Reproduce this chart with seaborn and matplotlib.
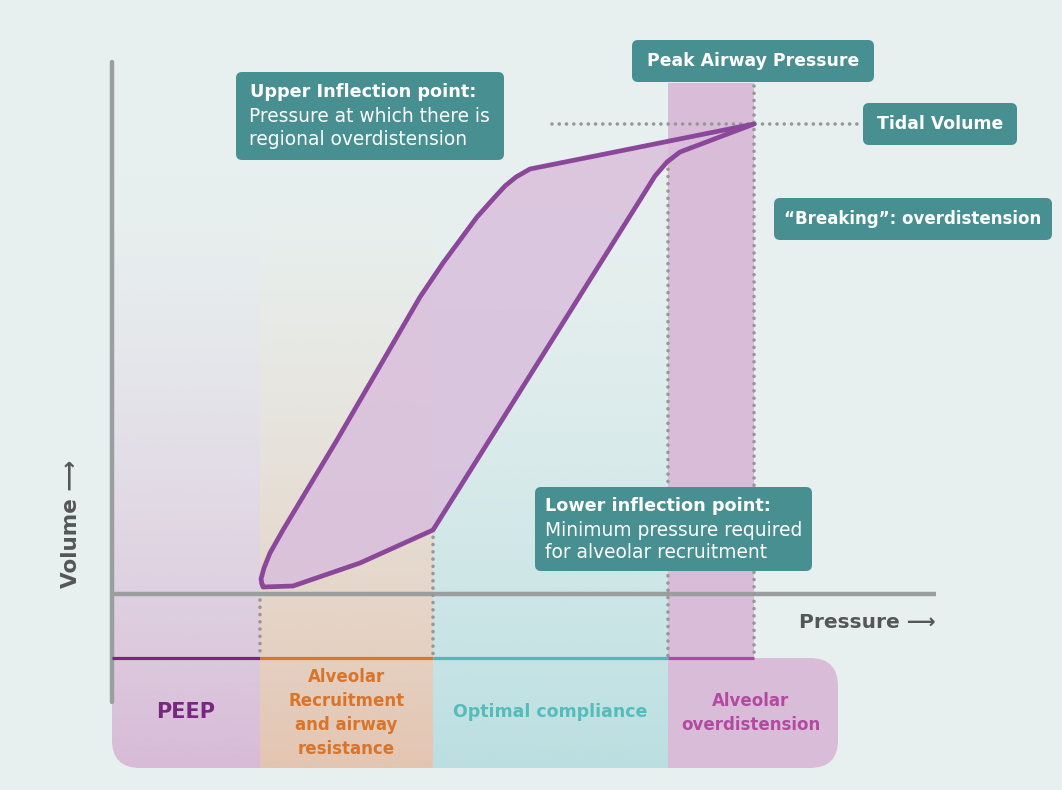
import numpy as np
import pandas as pd
import matplotlib
matplotlib.use("Agg")
import matplotlib.pyplot as plt
import seaborn as sns
from matplotlib.patches import FancyBboxPatch, Rectangle

# ---------------- data (pressure / volume in arbitrary units) ----------------
zone_labels = ["PEEP", "Alveolar\nRecruitment\nand airway\nresistance",
               "Optimal compliance", "Alveolar\noverdistension"]
zone_bounds = [0.0, 14.8, 32.1, 55.6, 64.2]
peep_pressure = 14.8
lower_ip_pressure = 32.1
lower_ip_volume = 6.4
breaking_pressure = 55.6
peak_pressure = 64.2
tidal_volume = 47.0

# inspiratory limb (PEEP -> peak)
insp_pressure = [15.0, 15.1, 18.1, 24.8, 32.1, 52.8, 54.3, 55.5, 56.8, 64.2]
insp_volume = [1.0, 0.7, 0.8, 3.1, 6.4, 39.4, 41.8, 43.2, 44.2, 47.0]
# expiratory limb (peak -> PEEP)
exp_pressure = [64.2, 48.8, 41.8, 40.4, 39.3, 38.2, 36.5, 34.8, 33.1, 30.8,
                22.5, 19.5, 17.1, 15.8, 15.2, 14.9, 15.0]
exp_volume = [47.0, 43.9, 42.5, 41.7, 40.8, 39.6, 37.7, 35.4, 33.1, 29.7,
              15.4, 10.4, 6.4, 4.1, 2.6, 1.5, 1.0]

box_texts = {
    "upper": ("Upper Inflection point:", ["Pressure at which there is", "regional overdistension"]),
    "lower": ("Lower inflection point:", ["Minimum pressure required", "for alveolar recruitment"]),
    "peak": "Peak Airway Pressure",
    "tidal": "Tidal Volume",
    "breaking": "\u201cBreaking\u201d: overdistension",
}

# ---------------- style ----------------
BG = "#e8f0ef"
TEAL_BOX = "#488f91"
CURVE = "#8b479a"
GRAY = "#9b9e9e"
DOT = "#979797"
zone_line_colors = ["#7a2580", "#d9752d", "#4fb9b9", "#b04aa0"]
zone_fill_colors = [(216, 187, 215), (228, 197, 177), (187, 223, 225)]
zone_text_colors = ["#77277f", "#d9742b", "#55bcbc", "#b24ba0"]
OVER_FILL = "#d9bdd8"

sns.set_theme(style="white")
plt.rcParams["font.family"] = ["DejaVu Sans"]

# layout helpers: pixel position -> data units
def X(px):
    return (px - 112) / 10.0

def Y(py):
    return (594 - py) / 10.0

fig = plt.figure(figsize=(10.62, 7.9), dpi=100)
fig.patch.set_facecolor(BG)
ax = fig.add_axes([0, 0, 1, 1])
ax.set_facecolor(BG)
ax.axis("off")

# ---------------- gradient zone bands ----------------
clip = FancyBboxPatch((X(112), Y(768)), X(720) - X(112), Y(100) - Y(768),
                      boxstyle="round,pad=0,rounding_size=2.8",
                      facecolor="none", edgecolor="none", transform=ax.transData)
ax.add_patch(clip)
N = 300
t = np.linspace(0, 1, N) ** 1.5
for i in range(3):
    rgb = np.array(zone_fill_colors[i]) / 255.0
    img = np.zeros((N, 1, 4))
    img[:, 0, :3] = rgb
    img[:, 0, 3] = t
    im = ax.imshow(img, extent=(zone_bounds[i], zone_bounds[i + 1], Y(768), Y(160)),
                   origin="upper", aspect="auto", interpolation="bilinear", zorder=1)
    im.set_clip_path(clip)

# overdistension band and bottom box
ax.add_patch(Rectangle((breaking_pressure, Y(658)), peak_pressure - breaking_pressure,
                       Y(83) - Y(658), facecolor=OVER_FILL, edgecolor="none", zorder=1))
over_box = FancyBboxPatch((X(600), Y(768)), X(838) - X(600), Y(658) - Y(768),
                          boxstyle="round,pad=0,rounding_size=2.8",
                          facecolor=OVER_FILL, edgecolor="none", zorder=1)
ax.add_patch(over_box)
over_clip = Rectangle((breaking_pressure, Y(800)), 40, 30, transform=ax.transData)
over_box.set_clip_path(over_clip)

# ---------------- axes lines ----------------
ax.plot([0, 0], [Y(702), Y(62)], color=GRAY, lw=3.2, solid_capstyle="round", zorder=2)
ax.plot([X(112), X(936)], [0, 0], color=GRAY, lw=3.2, solid_capstyle="butt", zorder=2)

# zone lines
for i in range(4):
    ax.plot([zone_bounds[i], zone_bounds[i + 1]], [Y(658), Y(658)],
            color=zone_line_colors[i], lw=2.3, solid_capstyle="butt", zorder=3)

# dotted guides
dot_kw = dict(color=DOT, lw=2.6, linestyle=(0, (0.01, 2.0)),
              dash_capstyle="round", zorder=2.5)
ax.plot([peep_pressure] * 2, [Y(600), Y(656)], **dot_kw)
ax.plot([lower_ip_pressure] * 2, [lower_ip_volume, Y(656)], **dot_kw)
ax.plot([breaking_pressure] * 2, [Y(162), Y(656)], **dot_kw)
ax.plot([peak_pressure] * 2, [Y(86), Y(656)], **dot_kw)
ax.plot([X(552), X(862)], [tidal_volume] * 2, **dot_kw)

# ---------------- P-V loop ----------------
loop = pd.DataFrame({
    "pressure": insp_pressure + exp_pressure[1:],
    "volume": insp_volume + exp_volume[1:],
})
ax.fill(loop["pressure"], loop["volume"], color="#d9bfdc", alpha=0.85, lw=0, zorder=4)
sns.lineplot(data=loop, x="pressure", y="volume", sort=False, estimator=None,
             color=CURVE, lw=3.4, ax=ax, zorder=5)
for ln in ax.lines[-1:]:
    ln.set_solid_joinstyle("round")
    ln.set_solid_capstyle("round")

# ---------------- text boxes ----------------
def tbox(x0, y0, x1, y1):
    ax.add_patch(FancyBboxPatch((X(x0), Y(y1)), X(x1) - X(x0), Y(y0) - Y(y1),
                                boxstyle="round,pad=0,rounding_size=0.6",
                                facecolor=TEAL_BOX, edgecolor="none", zorder=6))

tbox(236, 72, 504, 160)
ax.text(X(250), Y(92), box_texts["upper"][0], color="white", fontsize=12.7,
        fontweight="bold", va="center", ha="left", zorder=7)
for k, line in enumerate(box_texts["upper"][1]):
    ax.text(X(249), Y(116 + 23.5 * k), line, color="white", fontsize=13.4,
            va="center", ha="left", zorder=7)

tbox(535, 487, 812, 571)
ax.text(X(545), Y(506), box_texts["lower"][0], color="white", fontsize=12.7,
        fontweight="bold", va="center", ha="left", zorder=7)
for k, line in enumerate(box_texts["lower"][1]):
    ax.text(X(545), Y(530 + 22.5 * k), line, color="white", fontsize=13.4,
            va="center", ha="left", zorder=7)

tbox(632, 40, 874, 82)
ax.text(X(753), Y(61), box_texts["peak"], color="white", fontsize=12.4,
        fontweight="bold", va="center", ha="center", zorder=7)
tbox(863, 103, 1017, 145)
ax.text(X(940), Y(124), box_texts["tidal"], color="white", fontsize=12.4,
        fontweight="bold", va="center", ha="center", zorder=7)
tbox(774, 198, 1052, 240)
ax.text(X(913), Y(219), box_texts["breaking"], color="white", fontsize=12.0,
        fontweight="bold", va="center", ha="center", zorder=7)

# ---------------- axis titles ----------------
ax.text(X(867), Y(622), "Pressure \u27f6", color="#555757", fontsize=14.5,
        fontweight="bold", va="center", ha="center", zorder=7)
ax.text(X(71), Y(524), "Volume \u27f6", color="#555757", fontsize=15.5,
        fontweight="bold", va="center", ha="center", rotation=90, zorder=7)

# ---------------- zone labels ----------------
label_x = [(zone_bounds[i] + zone_bounds[i + 1]) / 2 for i in range(4)]
label_x[3] = X(751)
ax.text(label_x[0], Y(712), zone_labels[0], color=zone_text_colors[0], fontsize=15,
        fontweight="bold", ha="center", va="center", zorder=7)
ax.text(label_x[1], Y(713), zone_labels[1], color=zone_text_colors[1], fontsize=12,
        fontweight="bold", ha="center", va="center", linespacing=1.42, zorder=7)
ax.text(label_x[2], Y(712), zone_labels[2], color=zone_text_colors[2], fontsize=12.5,
        fontweight="bold", ha="center", va="center", zorder=7)
ax.text(label_x[3], Y(713), zone_labels[3], color=zone_text_colors[3], fontsize=12,
        fontweight="bold", ha="center", va="center", linespacing=1.5, zorder=7)

ax.set_xlim(X(0), X(1062))
ax.set_ylim(Y(790), Y(0))
fig.savefig("out.png", dpi=100, facecolor=BG)
